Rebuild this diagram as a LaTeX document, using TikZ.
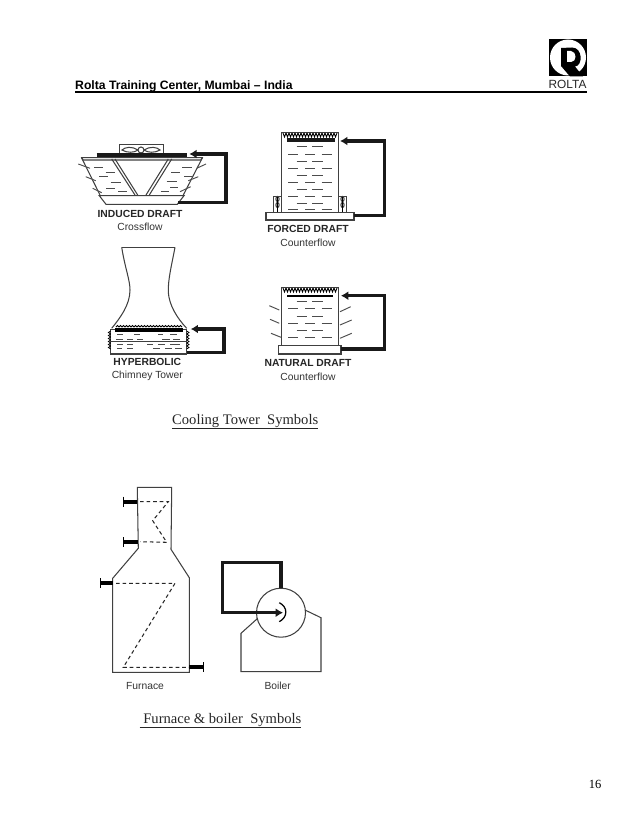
\documentclass[tikz,border=0pt]{standalone}
\usepackage{fontspec}
\setmainfont{Liberation Serif}
\setsansfont{Liberation Sans}

\tikzset{
  wall/.style={line width=1pt,draw=black!75},
  pipe/.style={line width=2.9pt,line join=miter,draw=black!90},
  flow/.style={pipe,-{Latex[length=7pt,width=8.5pt]}},
  water/.style={line width=0.9pt,draw=black!70},
  burner/.style={line width=3.6pt,draw=black},
  coil/.style={dash pattern=on 3.5pt off 2.8pt,line width=1pt,draw=black!85},
  tag/.style={font=\sffamily\fontsize{9.9}{12}\selectfont,text=black!80,inner sep=0pt},
  towername/.style={font=\sffamily\bfseries\fontsize{9.9}{12}\selectfont,text=black!85,inner sep=0pt},
  caption/.style={font=\fontsize{14}{16}\selectfont,text=black!85,inner sep=0pt,anchor=base west},
}
\usetikzlibrary{arrows.meta}

\begin{document}
\begin{tikzpicture}[x=0.96pt,y=-0.96pt]
\useasboundingbox (0,0) rectangle (638,826);
\fill[white] (0,0) rectangle (638,826);

% page header
\node[anchor=base west,inner sep=0pt,font=\sffamily\bfseries\fontsize{11.7}{14}\selectfont] (header) at (75,89.5) {Rolta Training Center, Mumbai -- India};
\draw[line width=1.1pt] (75,92)--(587,92);
\fill[black] (549,39) rectangle (587,76.5);
\fill[white] (568,57.5) circle (18);
\fill[black] (561,48)--(572,47.5) .. controls (583,47.5) and (583,66) .. (575,66.5)--(583,76.5)--(570,76.5)--(561,66)--cycle;
\fill[white] (567,51)--(571,51) .. controls (577,51.5) and (577,62) .. (571,62)--(567,62)--cycle;
\node[font=\sffamily\fontsize{11.4}{13}\selectfont,inner sep=0pt,text=black!85] (rolta) at (567.5,84.5) {ROLTA};

% induced draft
\draw[wall] (119.3,157.7) rectangle (163.3,144.3);
\draw[wall] (141,150) ellipse (3 and 3);
\draw[wall] (138,150) .. controls (132,146) and (125,147) .. (122,150) .. controls (127,153) and (134,153) .. (138,150);
\draw[wall] (144,150) .. controls (150,146) and (157,147) .. (160,150) .. controls (155,153) and (148,153) .. (144,150);
\draw[wall] (81.7,157.7)--(202.3,157.7)--(201,160)--(83,160)--cycle;
\draw[wall] (81.7,158)--(100,195);
\draw[wall] (202.3,158)--(183.3,195);
\draw[wall] (111.7,159)--(135,195);
\draw[wall] (115,159)--(137.7,195);
\draw[wall] (168.3,159)--(146,195);
\draw[wall] (171.7,159)--(149.3,195);
\draw[wall] (99.3,195.7)--(184,195.7)--(177.3,204.3)--(106,204.3)--cycle;
\draw[pipe] (96.7,155)--(186.7,155);
\coordinate (idout) at (178.3,202.3);
\coordinate (idin) at (189.3,154);
\draw[flow] (idout)--(226,202.3)--(226,154)--(idin);
\foreach \xa/\xb/\y in {94/103.3/167.7,105.7/115/172,99/108.3/176.7,110.7/120.7/182,106/115/188.3,118.3/127.3/191.3,182.3/191.7/167.3,171/180/172.3,184.3/193.3/176.7,166.7/176.7/181.7,170/178.3/187.3,160.7/169.3/191.3}
  \draw[water] (\xa,\y)--(\xb,\y);
\foreach \xa/\ya/\xb/\yb in {78.3/164/90/168.3,85.7/176.7/95.7/180.7,92.7/188.3/101.7/192.7,196.7/168.3/206/164,188.3/180.7/198.3/176.7,180/191.7/190.7/186.7}
  \draw[water] (\xa,\ya)--(\xb,\yb);
\node[towername] (idname) at (140,214) {INDUCED DRAFT};
\node[tag] (idkind) at (140,227) {Crossflow};

% forced draft
\draw[wall] (281.7,132.3) rectangle (338.3,212.3);
\draw[wall] (266,212.3) rectangle (354,220);
\draw[wall] (273.3,196.7) rectangle (281.7,212.3);
\draw[wall] (338.3,196.7) rectangle (346.7,212.3);
\foreach \x in {277.5,342.5}{
  \draw[wall] (\x,199) ellipse (1.6 and 2.6);
  \draw[wall] (\x,205) ellipse (1.6 and 2.6);
  \draw[line width=1pt] (\x,196.7)--(\x,212.3);
}
\foreach \x in {283,286,...,335}
  \draw[line width=0.8pt] (\x,133)--(\x+1.5,137)--(\x+3,133);
\draw[pipe] (286.7,140)--(335,140);
\coordinate (fdout) at (354,215.7);
\coordinate (fdin) at (340,141);
\draw[flow] (fdout)--(384.3,215.7)--(384.3,141)--(fdin);
\foreach \y in {146.7,161,175.3,189.5,203.3}{
  \draw[water] (296.7,\y)--(306.7,\y);
  \draw[water] (312.3,\y)--(323.3,\y);
}
\foreach \y in {154,168.3,182.7,196.7,209.3}{
  \draw[water] (288.3,\y)--(298.3,\y);
  \draw[water] (305,\y)--(315,\y);
  \draw[water] (321.7,\y)--(331.7,\y);
}
\node[towername] (fdname) at (308,229) {FORCED DRAFT};
\node[tag] (fdkind) at (308,243) {Counterflow};

% hyperbolic
\draw[wall] (121.7,247.3)--(175,247.3);
\draw[wall] (121.7,247.3) .. controls (125,268) and (130,280) .. (130,290) .. controls (130,305) and (120,318) .. (111.7,328.3);
\draw[wall] (175,247.3) .. controls (171,268) and (168,280) .. (168.3,292) .. controls (169,305) and (177,318) .. (186.7,328.3);
\draw[wall] (110.7,329.3) rectangle (186.7,354);
\draw[wall] (110.7,341.7)--(186.7,341.7);
\foreach \x in {116,119,...,180}
  \draw[line width=0.8pt] (\x,327)--(\x+1.5,325.5)--(\x+3,327);
\draw[line width=3.4pt] (115,330.2)--(183,330.2);
\foreach \y in {331,334,...,346}{
  \draw[line width=0.7pt] (110.7,\y)--(108.3,\y+1.5)--(110.7,\y+3);
  \draw[line width=0.7pt] (186.7,\y)--(189,\y+1.5)--(186.7,\y+3);
}
\coordinate (hbout) at (186.7,352.3);
\coordinate (hbin) at (190.7,329);
\draw[flow] (hbout)--(224,352.3)--(224,329)--(hbin);
\foreach \xa/\xb/\y in {117/123/334.3,134/140/334.3,158/163/334.3,170/177/334.3,116/123/339.3,127/133/339.3,137/143/339.3,162/170/339.3,173/180/339.3,117/123/344,127/133/344,147/153/344,158/165/344,170/180/344,117/122/348.3,127/133/348.3,153/160/348.3,165/172/348.3,175/182/348.3}
  \draw[water] (\xa,\y)--(\xb,\y);
\node[towername] (hbname) at (147.3,362) {HYPERBOLIC};
\node[tag] (hbkind) at (147.3,376) {Chimney Tower};

% natural draft
\draw[wall] (281.7,287.3) rectangle (338.3,345.7);
\draw[wall] (278.3,345.7) rectangle (341,354);
\foreach \x in {283,286,...,335}
  \draw[line width=0.8pt] (\x,288)--(\x+1.5,292)--(\x+3,288);
\draw[line width=1.8pt] (287.3,295.7)--(333.3,295.7);
\coordinate (ndout) at (341,349);
\coordinate (ndin) at (341,295.7);
\draw[flow] (ndout)--(384.3,349)--(384.3,295.7)--(ndin);
\foreach \y in {301.7,316,330.7}{
  \draw[water] (296.7,\y)--(306.7,\y);
  \draw[water] (312.3,\y)--(323.3,\y);
}
\foreach \y in {308.7,323.3,337.3}{
  \draw[water] (288.3,\y)--(298.3,\y);
  \draw[water] (305,\y)--(315,\y);
  \draw[water] (321.7,\y)--(331.7,\y);
}
\foreach \xa/\ya/\xb/\yb in {269.3/305.7/279.3/310,270/319.3/279.3/323.3,271/333.3/281/337.3,340/311.7/350.7/306.7,340/325/351.7/320,340/338.3/351.7/333.3}
  \draw[water] (\xa,\ya)--(\xb,\yb);
\node[towername] (ndname) at (308,363) {NATURAL DRAFT};
\node[tag] (ndkind) at (308,377) {Counterflow};

\node[caption] (towers) at (172,424) {\underline{Cooling Tower\ \ Symbols}};

% furnace
\draw[wall] (137.3,487.3)--(171.7,487.3)--(171,549.3)--(189.3,577.7)--(189.3,672.3)--(112.7,672.3)--(112.7,578.3)--(138.3,548.3)--cycle;
\foreach \xa/\xb/\y in {123.3/137.3/501.7,123.7/138/542,100.7/112.7/583.3,189.3/203.3/667.3}
  \draw[burner] (\xa,\y)--(\xb,\y);
\foreach \x/\y in {123.3/501.7,123.7/542,100.7/583.3,203.3/667.3}
  \draw[line width=0.9pt] (\x,\y-5)--(\x,\y+5);
\draw[coil] (140,501.7)--(168.3,501.7)--(152.7,520.7)--(166.7,542.3)--(140,541.7);
\draw[coil] (116,583.3)--(175,583.3)--(123.3,667.3)--(189,667.3);
\node[tag] (furnace) at (145,686) {Furnace};

% boiler
\draw[wall] (257.7,618.3)--(241,633.3)--(241,671.7)--(321,671.7)--(321,617.7)--(305,610);
\draw[wall] (281,612.7) circle (24.5);
\coordinate (bltop) at (281,588.2);
\coordinate (blin) at (283,612.7);
\draw[flow] (bltop)--(281,562.7)--(222.7,562.7)--(222.7,612.7)--(blin);
\draw[line width=1.2pt] (279.3,602.7) .. controls (288,607) and (288,617) .. (279.3,621.7);
\node[tag] (boiler) at (277.7,686) {Boiler};

\node[caption] (furnboil) at (139.5,723) {\underline{\ Furnace \& boiler\ \ Symbols}};
\node[font=\fontsize{12}{14}\selectfont,inner sep=0pt] (pageno) at (595,784) {16};
\end{tikzpicture}
\end{document}
